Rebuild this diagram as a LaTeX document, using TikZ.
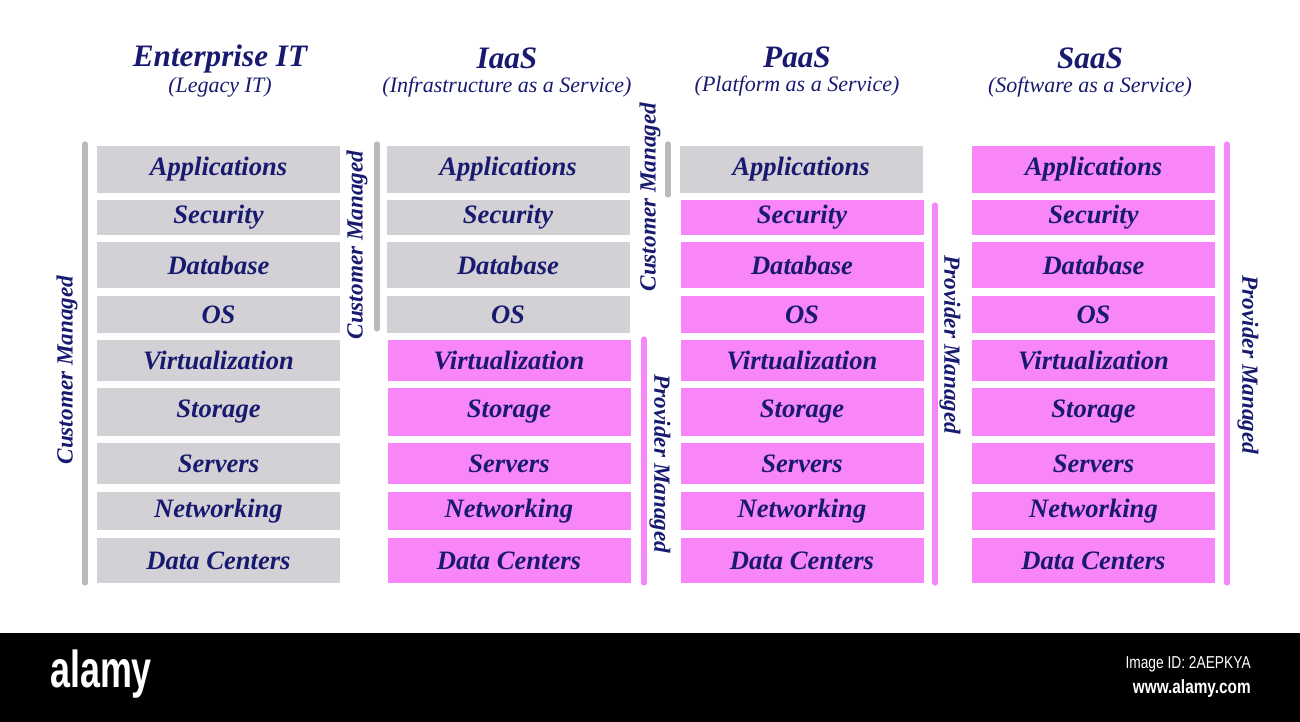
\documentclass[tikz,border=0pt]{standalone}
\usepackage{fontspec}
\setmainfont{Liberation Serif}
\setsansfont{Liberation Sans}
\definecolor{ink}{RGB}{24,26,112}
\definecolor{custgray}{RGB}{211,209,213}
\definecolor{bargray}{RGB}{186,186,188}
\definecolor{provpink}{RGB}{249,134,249}
\tikzset{
  layer/.style={minimum width=121.5pt, inner sep=0pt, text=ink,
    font=\bfseries\itshape\fontsize{13.3}{15}\selectfont},
  cust/.style={layer, fill=custgray},
  prov/.style={layer, fill=provpink},
  title/.style={text=ink, inner sep=0pt, font=\bfseries\itshape\fontsize{15.6}{18}\selectfont},
  subtitle/.style={text=ink, inner sep=0pt, font=\itshape\fontsize{11}{13}\selectfont},
  side/.style={text=ink, inner sep=0pt, font=\bfseries\itshape\fontsize{11.6}{14}\selectfont},
  custbar/.style={draw=bargray, line width=2.6pt, line cap=round},
  provbar/.style={draw=provpink, line width=2.6pt, line cap=round}
}
\begin{document}
\begin{tikzpicture}[x=0.5pt, y=-0.5pt]
  \useasboundingbox (0,0) rectangle (1300,722);

  % column titles
  \node[title] (t1) at (220,59) {Enterprise IT};
  \node[subtitle] (s1) at (220,87) {(Legacy IT)};
  \node[title] (t2) at (507,58) {IaaS};
  \node[subtitle] (s2) at (507,87) {(Infrastructure as a Service)};
  \node[title] (t3) at (797,57) {PaaS};
  \node[subtitle] (s3) at (797,86) {(Platform as a Service)};
  \node[title] (t4) at (1090,58) {SaaS};
  \node[subtitle] (s4) at (1090,87) {(Software as a Service)};

  % Enterprise IT
  \node[cust, minimum height=23.5pt] (e1) at (218.5,169.5) {Applications};
  \node[cust, minimum height=17.5pt] (e2) at (218.5,217.5) {Security};
  \node[cust, minimum height=23pt]   (e3) at (218.5,265) {Database};
  \node[cust, minimum height=18.5pt] (e4) at (218.5,314.5) {OS};
  \node[cust, minimum height=20.5pt] (e5) at (218.5,360.5) {Virtualization};
  \node[cust, minimum height=24pt]   (e6) at (218.5,412) {Storage};
  \node[cust, minimum height=20.5pt] (e7) at (218.5,463.5) {Servers};
  \node[cust, minimum height=19pt]   (e8) at (218.5,511) {Networking};
  \node[cust, minimum height=22.5pt] (e9) at (218.5,560.5) {Data Centers};

  % IaaS
  \node[cust, minimum height=23.5pt] (i1) at (508,169.5) {Applications};
  \node[cust, minimum height=17.5pt] (i2) at (508,217.5) {Security};
  \node[cust, minimum height=23pt]   (i3) at (508,265) {Database};
  \node[cust, minimum height=18.5pt] (i4) at (508,314.5) {OS};
  \node[prov, minimum height=20.5pt] (i5) at (509,360.5) {Virtualization};
  \node[prov, minimum height=24pt]   (i6) at (509,412) {Storage};
  \node[prov, minimum height=20.5pt] (i7) at (509,463.5) {Servers};
  \node[prov, minimum height=19pt]   (i8) at (509,511) {Networking};
  \node[prov, minimum height=22.5pt] (i9) at (509,560.5) {Data Centers};

  % PaaS
  \node[cust, minimum height=23.5pt] (p1) at (801,169.5) {Applications};
  \node[prov, minimum height=17.5pt] (p2) at (802,217.5) {Security};
  \node[prov, minimum height=23pt]   (p3) at (802,265) {Database};
  \node[prov, minimum height=18.5pt] (p4) at (802,314.5) {OS};
  \node[prov, minimum height=20.5pt] (p5) at (802,360.5) {Virtualization};
  \node[prov, minimum height=24pt]   (p6) at (802,412) {Storage};
  \node[prov, minimum height=20.5pt] (p7) at (802,463.5) {Servers};
  \node[prov, minimum height=19pt]   (p8) at (802,511) {Networking};
  \node[prov, minimum height=22.5pt] (p9) at (802,560.5) {Data Centers};

  % SaaS
  \node[prov, minimum height=23.5pt] (a1) at (1093.5,169.5) {Applications};
  \node[prov, minimum height=17.5pt] (a2) at (1093.5,217.5) {Security};
  \node[prov, minimum height=23pt]   (a3) at (1093.5,265) {Database};
  \node[prov, minimum height=18.5pt] (a4) at (1093.5,314.5) {OS};
  \node[prov, minimum height=20.5pt] (a5) at (1093.5,360.5) {Virtualization};
  \node[prov, minimum height=24pt]   (a6) at (1093.5,412) {Storage};
  \node[prov, minimum height=20.5pt] (a7) at (1093.5,463.5) {Servers};
  \node[prov, minimum height=19pt]   (a8) at (1093.5,511) {Networking};
  \node[prov, minimum height=22.5pt] (a9) at (1093.5,560.5) {Data Centers};

  % management bars
  \coordinate (eb1) at (85,144);   \coordinate (eb2) at (85,583);
  \coordinate (ib1) at (377,144);  \coordinate (ib2) at (377,329);
  \coordinate (ib3) at (644,339);  \coordinate (ib4) at (644,583);
  \coordinate (pb1) at (668,144);  \coordinate (pb2) at (668,195);
  \coordinate (pb3) at (935,205);  \coordinate (pb4) at (935,583);
  \coordinate (ab1) at (1227,144); \coordinate (ab2) at (1227,583);
  \draw[custbar] (eb1) -- (eb2);
  \draw[custbar] (ib1) -- (ib2);
  \draw[provbar] (ib3) -- (ib4);
  \draw[custbar] (pb1) -- (pb2);
  \draw[provbar] (pb3) -- (pb4);
  \draw[provbar] (ab1) -- (ab2);

  % side labels
  \node[side, rotate=90]  (ec) at (67,370)   {Customer Managed};
  \node[side, rotate=90]  (ic) at (357,245)  {Customer Managed};
  \node[side, rotate=-90] (ip) at (660,464)  {Provider Managed};
  \node[side, rotate=90]  (pc) at (650,197)  {Customer Managed};
  \node[side, rotate=-90] (pp) at (950,345)  {Provider Managed};
  \node[side, rotate=-90] (ap) at (1248,365) {Provider Managed};

  % footer strip
  \fill[black] (0,633) rectangle (1300,722);
  \node[text=white, inner sep=0pt, xscale=0.69,
    font=\sffamily\bfseries\fontsize{26}{28}\selectfont] (logo) at (101,674) {alamy};
  \node[text=white, inner sep=0pt, anchor=east, xscale=0.8,
    font=\sffamily\fontsize{8.6}{10}\selectfont] (imgid) at (1251,664) {Image ID: 2AEPKYA};
  \node[text=white, inner sep=0pt, anchor=east, xscale=0.8,
    font=\sffamily\bfseries\fontsize{9.6}{11}\selectfont] (site) at (1251,689) {www.alamy.com};
\end{tikzpicture}
\end{document}
